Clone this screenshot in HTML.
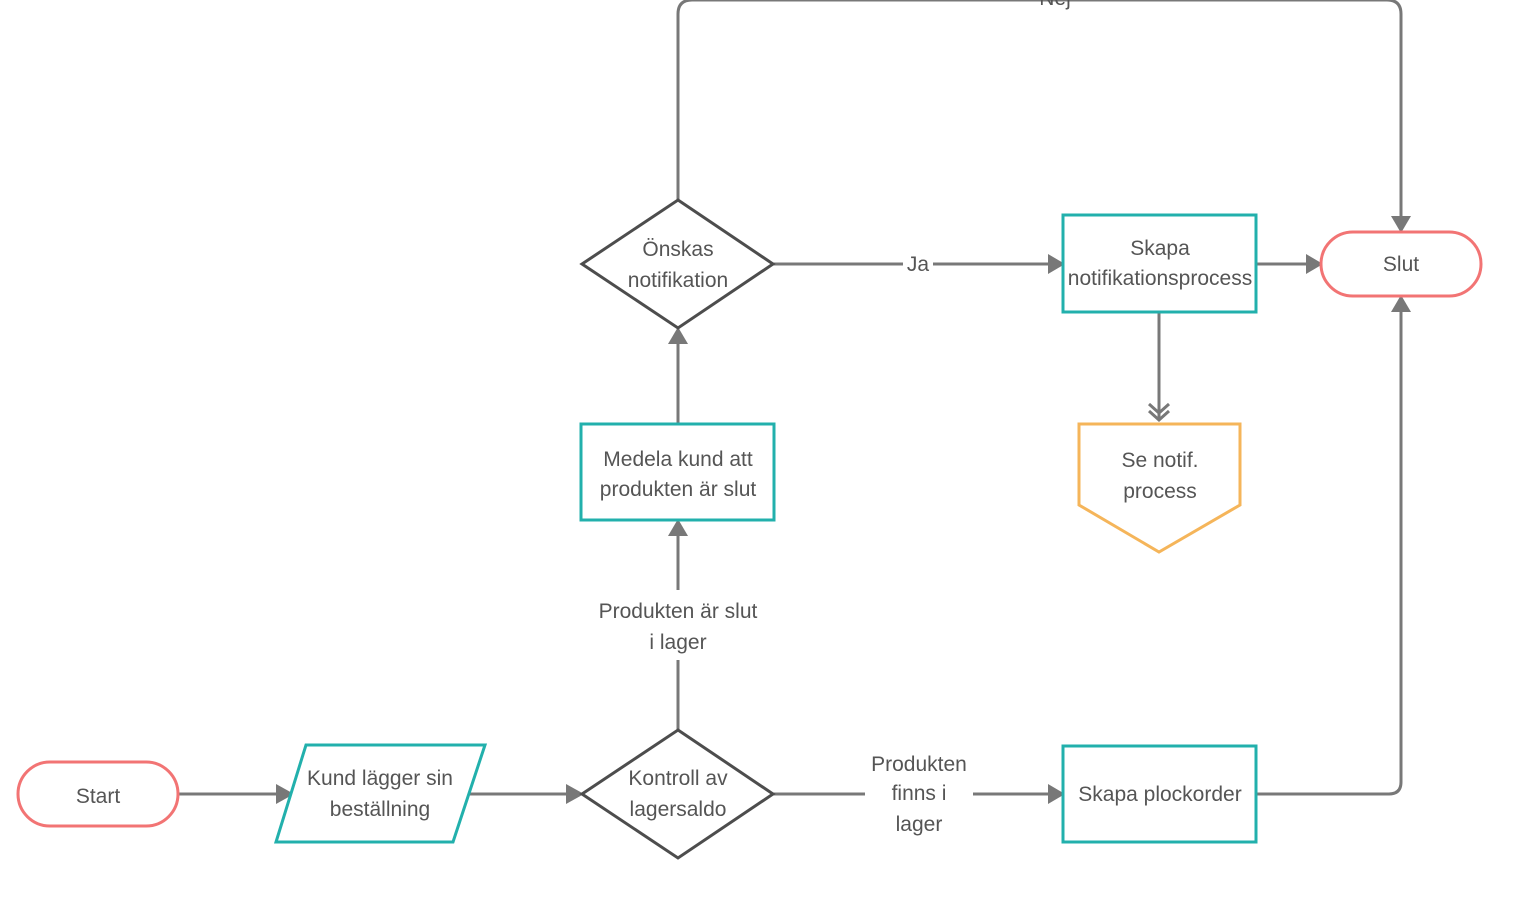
<!DOCTYPE html>
<html><head><meta charset="utf-8"><style>
html,body{margin:0;padding:0;background:#fff;}
svg{display:block;}
text{font-family:"Liberation Sans",sans-serif;font-size:21px;fill:#555;text-anchor:middle;}
</style></head><body>
<svg width="1536" height="908" viewBox="0 0 1536 908" xmlns="http://www.w3.org/2000/svg">
<g stroke="#787878" stroke-width="3" fill="none">
<line x1="178" y1="794" x2="280" y2="794"/>
<line x1="468" y1="794" x2="568" y2="794"/>
<line x1="773" y1="794" x2="865" y2="794"/>
<line x1="973" y1="794" x2="1050" y2="794"/>
<path d="M1256 794 H1389 Q1401 794 1401 782 V310"/>
<line x1="678" y1="730" x2="678" y2="660"/>
<line x1="678" y1="590" x2="678" y2="534"/>
<line x1="678" y1="424" x2="678" y2="342"/>
<path d="M678 200 V14 Q678 0 692 0 H1387 Q1401 0 1401 14 V218"/>
<line x1="773" y1="264" x2="903" y2="264"/>
<line x1="933" y1="264" x2="1050" y2="264"/>
<line x1="1256" y1="264" x2="1308" y2="264"/>
<line x1="1159" y1="312" x2="1159" y2="420"/>
<polyline points="1149,404 1159,413 1169,404"/>
<polyline points="1149,411 1159,420 1169,411"/>
</g>
<g fill="#787878">
<polygon points="276,784 294,794 276,804"/>
<polygon points="566,784 584,794 566,804"/>
<polygon points="1048,784 1065,794 1048,804"/>
<polygon points="1048,254 1065,264 1048,274"/>
<polygon points="1306,254 1323,264 1306,274"/>
<polygon points="1391,216 1401,233 1411,216"/>
<polygon points="1391,312 1401,295 1411,312"/>
<polygon points="668,536 678,519 688,536"/>
<polygon points="668,344 678,327 688,344"/>
</g>
<rect x="18" y="762" width="160" height="64" rx="32" fill="#fff" stroke="#f27474" stroke-width="3"/>
<rect x="1321" y="232" width="160" height="64" rx="32" fill="#fff" stroke="#f27474" stroke-width="3"/>
<polygon points="306,745 485,745 453,842 276,842" fill="#fff" stroke="#22b0ac" stroke-width="3"/>
<polygon points="678,730 773,794 678,858 582,794" fill="#fff" stroke="#4d4d4d" stroke-width="3"/>
<polygon points="678,200 773,264 678,328 582,264" fill="#fff" stroke="#4d4d4d" stroke-width="3"/>
<rect x="581" y="424" width="193" height="96" fill="#fff" stroke="#22b0ac" stroke-width="3"/>
<rect x="1063" y="215" width="193" height="97" fill="#fff" stroke="#22b0ac" stroke-width="3"/>
<rect x="1063" y="746" width="193" height="96" fill="#fff" stroke="#22b0ac" stroke-width="3"/>
<polygon points="1079,424 1240,424 1240,505 1159,552 1079,505" fill="#fff" stroke="#f5b55a" stroke-width="3"/>
<text x="98" y="803">Start</text>
<text x="1401" y="271">Slut</text>
<text x="380" y="785">Kund lägger sin</text>
<text x="380" y="816">beställning</text>
<text x="678" y="785">Kontroll av</text>
<text x="678" y="816">lagersaldo</text>
<text x="678" y="256">Önskas</text>
<text x="678" y="287">notifikation</text>
<text x="678" y="466">Medela kund att</text>
<text x="678" y="496">produkten är slut</text>
<text x="1160" y="255">Skapa</text>
<text x="1160" y="285">notifikationsprocess</text>
<text x="1160" y="801">Skapa plockorder</text>
<text x="1160" y="467">Se notif.</text>
<text x="1160" y="498">process</text>
<text x="678" y="618">Produkten är slut</text>
<text x="678" y="649">i lager</text>
<text x="919" y="771">Produkten</text>
<text x="919" y="800">finns i</text>
<text x="919" y="831">lager</text>
<text x="918" y="271">Ja</text>
<text x="1055" y="5">Nej</text>
</svg>
</body></html>
